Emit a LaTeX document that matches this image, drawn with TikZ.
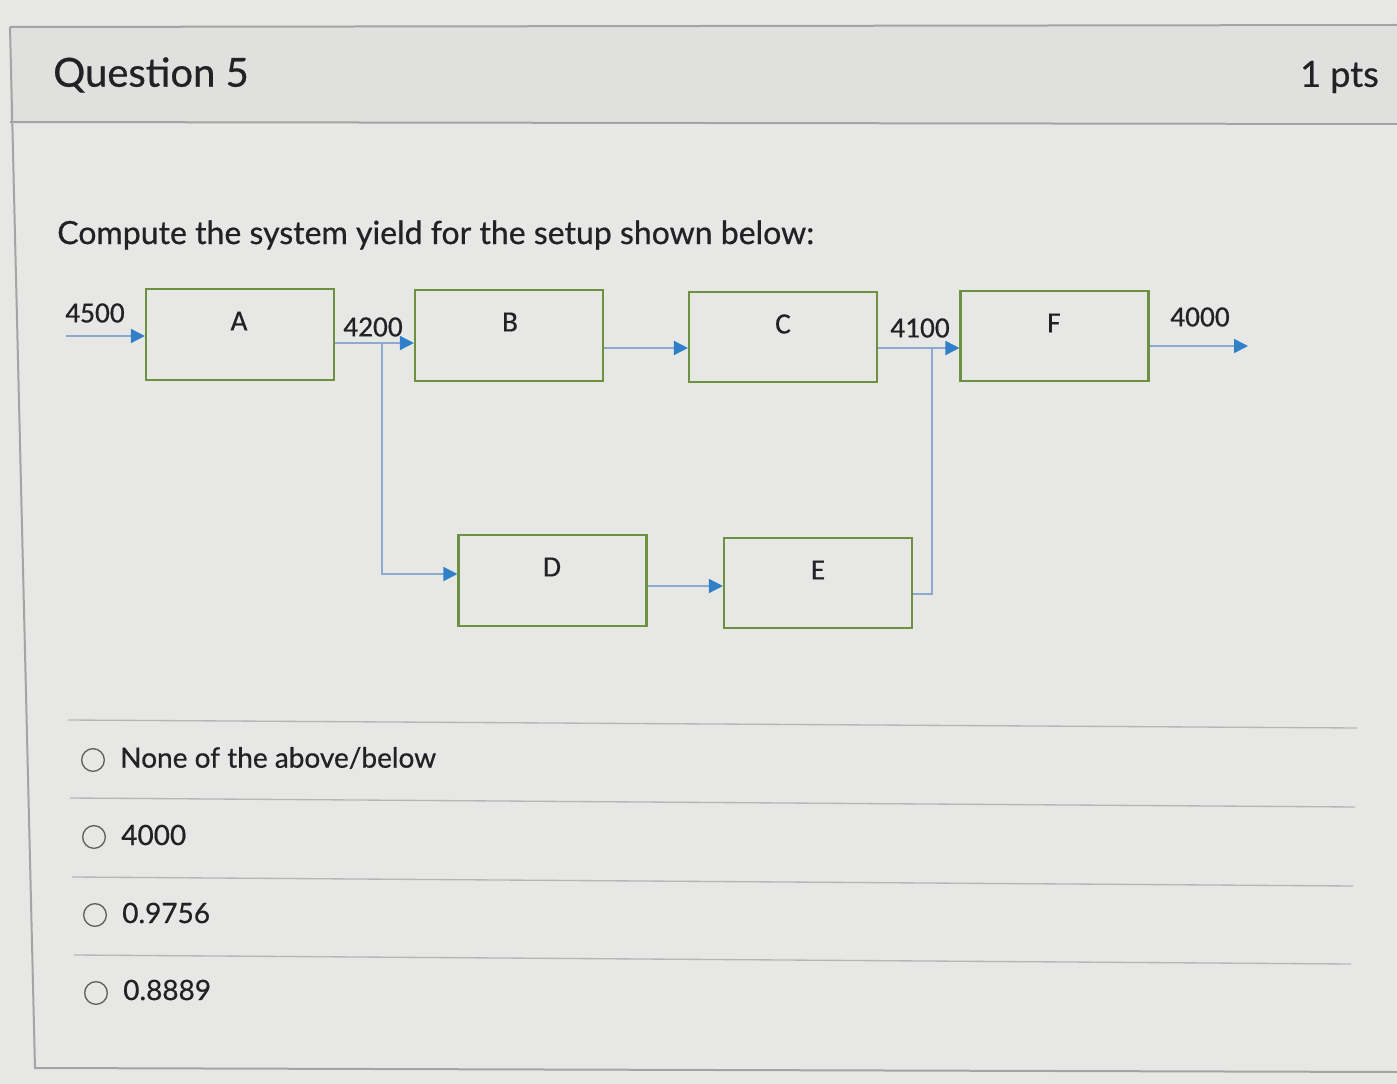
\documentclass[tikz,border=0pt]{standalone}
\usepackage{fontspec}
\setmainfont{Lato}[FakeBold=0.6]
\newfontfamily\diagfont{Carlito}[FakeBold=0.5]
\usetikzlibrary{arrows.meta,calc}
\definecolor{pagebg}{HTML}{E7E8E6}
\definecolor{headbg}{HTML}{E0E1DF}
\definecolor{rulegray}{HTML}{A3A4A3}
\definecolor{boxgreen}{HTML}{6E9140}
\definecolor{linkblue}{HTML}{8DA9CF}
\definecolor{tipblue}{HTML}{2F80C8}
\definecolor{inkdark}{HTML}{222226}
\tikzset{
  stagebox/.style={draw=boxgreen, line width=1.6pt, minimum width=141pt, minimum height=68pt, inner sep=0pt},
  flow/.style={draw=linkblue, line width=1.2pt, -{Triangle[length=10.5pt,width=10.5pt,color=tipblue]}},
  flowplain/.style={draw=linkblue, line width=1.2pt},
  dlabel/.style={font=\diagfont\fontsize{22}{26}\selectfont, text=inkdark, inner sep=0pt},
  radio/.style={circle, draw=gray!75!black, line width=1pt, minimum size=17pt, inner sep=0pt},
  optext/.style={font=\fontsize{21}{25}\selectfont, text=inkdark, anchor=west, inner sep=0pt},
  sep/.style={draw=rulegray!80, line width=1pt}
}
\begin{document}
\begin{tikzpicture}[x=0.75pt,y=-0.75pt]
\useasboundingbox (0,0) rectangle (1397,1084);
\fill[pagebg] (0,0) rectangle (1397,1084);
% header panel
\fill[headbg] (10,27) rectangle (1397,122);
\draw[rulegray, line width=1.5pt] (10,27) -- (1397,25);
\draw[rulegray, line width=1.5pt] (10,122) -- (1397,124);
\draw[rulegray, line width=1.5pt] (10,27) -- (35,1068) -- (1397,1072);
\node[anchor=west, font=\fontsize{30}{36}\selectfont, text=inkdark, inner sep=0pt] (qtitle) at (53,75) {Question 5};
\node[anchor=east, font=\fontsize{27}{32}\selectfont, text=inkdark, inner sep=0pt] (qpts) at (1379,77) {1 pts};
\node[anchor=west, font=\fontsize{24}{29}\selectfont, text=inkdark, inner sep=0pt] (prompt) at (57,235) {Compute the system yield for the setup shown below:};

% boxes
\node[stagebox] (A) at (240,334.5) {};
\node[stagebox] (B) at (509,335.5) {};
\node[stagebox] (C) at (783,337) {};
\node[stagebox] (F) at (1054.5,336) {};
\node[stagebox] (D) at (552.5,580.5) {};
\node[stagebox] (E) at (818,583) {};
\node[dlabel] (Alab) at (239,321) {A};
\node[dlabel] (Blab) at (510,322) {B};
\node[dlabel] (Clab) at (783,324) {C};
\node[dlabel] (Flab) at (1054,323) {F};
\node[dlabel] (Dlab) at (552,567) {D};
\node[dlabel] (Elab) at (818,570) {E};
\node[dlabel] (l4500) at (95,313) {4500};
\node[dlabel] (l4200) at (373,327) {4200};
\node[dlabel] (l4100) at (920,328) {4100};
\node[dlabel] (l4000) at (1200,317) {4000};

% connectors
\coordinate (in) at (66,336);
\coordinate (j1) at (382,343);
\coordinate (jd) at (382,574);
\coordinate (bc) at (646,348);
\coordinate (j2) at (932,348);
\coordinate (de) at (685,586);
\coordinate (e2) at (932,594);
\coordinate (out) at (1248,346);
\draw[flow] (in) -- (in -| A.west);
\draw[flow] (j1 -| A.east) -- (j1 -| B.west);
\draw[flow] (j1) -- (jd) -- (jd -| D.west);
\draw[flow] (bc -| B.east) -- (bc -| C.west);
\draw[flow] (j2 -| C.east) -- (j2 -| F.west);
\draw[flow] (de -| D.east) -- (de -| E.west);
\draw[flowplain] (e2 -| E.east) -- (e2) -- (j2);
\draw[flow] (out -| F.east) -- (out);

% answer options
\draw[sep] (68,720) -- (1357,728);
\draw[sep] (70,798) -- (1355,807);
\draw[sep] (72,877) -- (1353,886);
\draw[sep] (74,955) -- (1351,964);
\node[radio] (r1) at (93,760) {};
\node[radio] (r2) at (94,837) {};
\node[radio] (r3) at (95,915) {};
\node[radio] (r4) at (96,993) {};
\node[optext] (o1) at (120,758) {None of the above/below};
\node[optext] (o2) at (121,835) {4000};
\node[optext] (o3) at (122,913) {0.9756};
\node[optext] (o4) at (123,990) {0.8889};
\end{tikzpicture}
\end{document}
